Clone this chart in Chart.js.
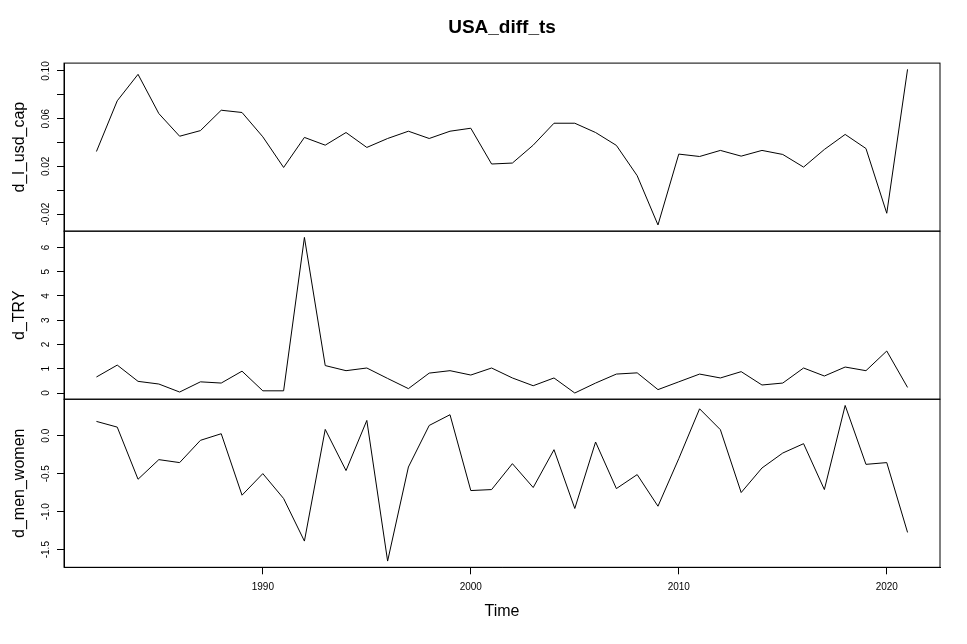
<!DOCTYPE html>
<html lang="en">
  <head>
    <meta charset="UTF-8" />
    <meta name="viewport" content="width=device-width, initial-scale=1.0" />
    <script src="https://cdn.jsdelivr.net/npm/chart.js@4.4.0/dist/chart.umd.min.js"></script>
    <title>USA_diff_ts</title>
    <style>
      body { margin: 0; background: #fff; }
    </style>
  </head>
  <body>
    <canvas id="myChart" width="967" height="644"></canvas>
    <script>
      const years = [
        1982, 1983, 1984, 1985, 1986, 1987, 1988, 1989, 1990, 1991,
        1992, 1993, 1994, 1995, 1996, 1997, 1998, 1999, 2000, 2001,
        2002, 2003, 2004, 2005, 2006, 2007, 2008, 2009, 2010, 2011,
        2012, 2013, 2014, 2015, 2016, 2017, 2018, 2019, 2020, 2021,
      ];
      const dLUsdCap = [
        0.0325, 0.075, 0.0972, 0.0643, 0.0453, 0.05, 0.0671, 0.0652, 0.0448, 0.0191,
        0.0443, 0.0378, 0.0484, 0.0359, 0.0434, 0.0495, 0.0434, 0.0495, 0.052, 0.022,
        0.0228, 0.0378, 0.0562, 0.0562, 0.0484, 0.0376, 0.0122, -0.0291, 0.0303, 0.0283,
        0.0334, 0.0286, 0.0334, 0.03, 0.0194, 0.0342, 0.0468, 0.035, -0.0193, 0.1014,
      ];
      const dTRY = [
        0.66, 1.15, 0.48, 0.37, 0.04, 0.46, 0.41, 0.9, 0.09, 0.09,
        6.41, 1.13, 0.92, 1.03, 0.6, 0.18, 0.82, 0.92, 0.74, 1.03,
        0.62, 0.3, 0.62, 0.0, 0.41, 0.78, 0.83, 0.14, 0.46, 0.78,
        0.62, 0.88, 0.33, 0.41, 1.03, 0.7, 1.07, 0.92, 1.73, 0.23,
      ];
      const dMenWomen = [
        0.188, 0.113, -0.573, -0.315, -0.354, -0.061, 0.026, -0.783, -0.499, -0.827,
        -1.387, 0.083, -0.459, 0.201, -1.65, -0.412, 0.135, 0.276, -0.722, -0.709,
        -0.368, -0.682, -0.184, -0.958, -0.083, -0.696, -0.512, -0.928, -0.302, 0.354,
        0.079, -0.748, -0.425, -0.228, -0.105, -0.709, 0.398, -0.377, -0.354, -1.273,
      ];

      const usdCapTicks = [-0.02, 0, 0.02, 0.04, 0.06, 0.08, 0.1];
      const usdCapLabels = ["-0.02", "", "0.02", "", "0.06", "", "0.10"];
      const tryTicks = [0, 1, 2, 3, 4, 5, 6];
      const tryLabels = ["0", "1", "2", "3", "4", "5", "6"];
      const menWomenTicks = [-1.5, -1, -0.5, 0];
      const menWomenLabels = ["-1.5", "-1.0", "-0.5", "0.0"];
      const timeTicks = [1990, 2000, 2010, 2020];
      const timeLabels = ["1990", "2000", "2010", "2020"];

      // R style axis range: data range plus 4% on each side
      function rRange(vals) {
        const lo = Math.min(...vals);
        const hi = Math.max(...vals);
        const ext = (hi - lo) * 0.04;
        return [lo - ext, hi + ext];
      }

      function panelAxis(title, vals, ticks, labels, weight, pad) {
        const [min, max] = rRange(vals);
        return {
          type: "linear",
          position: "left",
          stack: "panels",
          stackWeight: 1,
          weight: weight,
          min: min,
          max: max,
          afterBuildTicks: (s) => {
            s.ticks = ticks.map((v) => ({ value: v }));
          },
          afterFit: (s) => {
            s.width = 64;
          },
          ticks: {
            autoSkip: false,
            minRotation: 90,
            maxRotation: 90,
            crossAlign: "center",
            padding: pad,
            color: "#000",
            font: { size: 10 },
            callback: (v, i) => labels[i],
          },
          grid: { drawOnChartArea: false, drawTicks: true, tickLength: 7, color: "#000" },
          border: { display: true, color: "#000" },
          title: {
            display: true,
            text: title,
            color: "#000",
            font: { size: 16 },
            padding: { top: 10, bottom: 0 },
          },
        };
      }

      const panelFrame = {
        id: "panelFrame",
        afterDatasetsDraw(chart) {
          const { ctx, chartArea } = chart;
          ctx.save();
          ctx.strokeStyle = "#000";
          ctx.lineWidth = 1;
          ["y1", "y2", "y3"].forEach((id) => {
            const s = chart.scales[id];
            ctx.strokeRect(chartArea.left, s.top, chartArea.right - chartArea.left, s.bottom - s.top);
          });
          ctx.restore();
        },
      };

      const toPoints = (vals) => years.map((yr, i) => ({ x: yr, y: vals[i] }));
      const [xMin, xMax] = rRange(years);

      Chart.defaults.font.family = "'Liberation Sans', Arial, sans-serif";
      Chart.defaults.color = "#000";

      const ctx = document.getElementById("myChart").getContext("2d");
      const myChart = new Chart(ctx, {
        type: "line",
        data: {
          datasets: [
            { label: "d_l_usd_cap", data: toPoints(dLUsdCap), yAxisID: "y1" },
            { label: "d_TRY", data: toPoints(dTRY), yAxisID: "y2" },
            { label: "d_men_women", data: toPoints(dMenWomen), yAxisID: "y3" },
          ],
        },
        options: {
          responsive: false,
          animation: false,
          devicePixelRatio: 1,
          layout: { padding: { left: 0, right: 27, top: 0, bottom: 0 } },
          elements: {
            line: { borderColor: "#000", borderWidth: 1, tension: 0, fill: false },
            point: { radius: 0 },
          },
          plugins: {
            legend: { display: false },
            tooltip: { enabled: false },
            title: {
              display: true,
              text: "USA_diff_ts",
              fullSize: false,
              color: "#000",
              font: { size: 19, weight: "bold" },
              padding: { top: 16.3, bottom: 24 },
            },
          },
          scales: {
            x: {
              type: "linear",
              position: "bottom",
              min: xMin,
              max: xMax,
              afterBuildTicks: (s) => {
                s.ticks = timeTicks.map((v) => ({ value: v }));
              },
              afterFit: (s) => {
                s.height = 76.7;
              },
              ticks: {
                autoSkip: false,
                maxRotation: 0,
                padding: 7,
                color: "#000",
                font: { size: 10 },
                callback: (v, i) => timeLabels[i],
              },
              grid: { drawOnChartArea: false, tickLength: 7, color: "#000" },
              border: { color: "#000" },
              title: {
                display: true,
                text: "Time",
                color: "#000",
                font: { size: 16 },
                padding: { top: 0, bottom: 22.7 },
              },
            },
            y1: panelAxis("d_l_usd_cap", dLUsdCap, usdCapTicks, usdCapLabels, 3, -1.1),
            y2: panelAxis("d_TRY", dTRY, tryTicks, tryLabels, 2, 7.5),
            y3: panelAxis("d_men_women", dMenWomen, menWomenTicks, menWomenLabels, 1, 1.7),
          },
        },
        plugins: [panelFrame],
      });
    </script>
  </body>
</html>
